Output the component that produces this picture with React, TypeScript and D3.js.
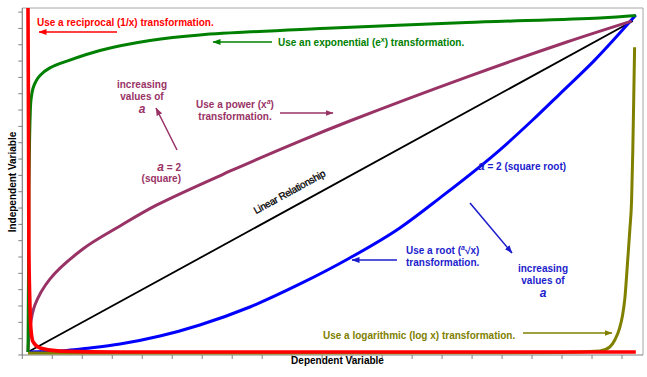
import React from 'react';
import * as d3 from 'd3';

type P = [number, number];

// tick positions (axis units)
const xTicks = d3.range(0, 21);
const yTicks = d3.range(0, 22);

// curves (axis units)
const linearPts: P[] = [[0.19, 0.18], [20.36, 20.45]];
const rootPts: P[] = [
  [0.19, 0.18], [1.26, 0.24], [2.26, 0.43], [3.26, 0.67], [4.59, 1.16], [5.92, 1.84],
  [7.59, 2.94], [9.26, 4.35], [10.92, 5.94], [12.59, 7.78], [13.92, 9.61], [15.92, 12.55],
  [17.02, 14.39], [17.92, 15.98], [19.09, 18.06], [20.46, 20.82],
];
const powerPts: P[] = [
  [0.19, 0.18], [0.25, 1.6], [0.42, 3.06], [0.92, 4.65], [2.02, 6.49], [3.26, 7.9],
  [4.49, 9.19], [7.02, 11.33], [9.26, 13.1], [10.92, 14.33], [14.82, 17.02],
  [18.16, 19.17], [20.32, 20.45],
];
const logPts: P[] = [
  [0.19, 0.12], [17.92, 0.15], [19.26, 0.24], [19.59, 0.49], [19.76, 0.92], [19.92, 1.65],
  [20.02, 2.45], [20.09, 3.37], [20.19, 5.82], [20.26, 7.65], [20.32, 9.49], [20.36, 12.55],
  [20.39, 15.62], [20.42, 18.85],
];
const expPts: P[] = [
  [0.19, 0.18], [0.21, 5.82], [0.22, 10.1], [0.24, 12.86], [0.26, 14.51], [0.29, 15.62],
  [0.36, 16.35], [0.46, 16.78], [0.59, 17.12], [0.92, 17.58], [1.49, 18.0], [2.59, 18.65],
  [4.26, 19.26], [5.92, 19.6], [10.36, 20.02], [14.82, 20.36], [19.26, 20.64], [20.46, 20.79],
];
const recipPts: P[] = [
  [0.19, 21.25], [0.21, 12.55], [0.22, 6.43], [0.26, 2.76], [0.29, 1.53], [0.36, 0.8],
  [0.59, 0.43], [1.26, 0.24], [3.26, 0.18], [20.46, 0.18],
];

const FONT = "'Liberation Sans', Arial, sans-serif";
const RED = '#ff0000';
const GREEN = '#008000';
const MAG = '#993366';
const BLUE = '#0000ff';
const BLUE_T = '#1c1ccc';
const OLIVE = '#808000';

export default function App() {
  const x = d3.scaleLinear().domain([0, 20.7]).range([22.3, 643]);
  const y = d3.scaleLinear().domain([0, 21.25]).range([355, 8]);
  const line = d3.line<P>().x(d => x(d[0])).y(d => y(d[1])).curve(d3.curveMonotoneX);
  const smooth = d3.line<P>().x(d => x(d[0])).y(d => y(d[1])).curve(d3.curveCatmullRom.alpha(0.5));

  const marker = (id: string, color: string) => (
    <marker id={id} viewBox="0 0 8 6" refX={7.5} refY={3} markerWidth={8} markerHeight={6}
      markerUnits="userSpaceOnUse" orient="auto">
      <path d="M0,0 L8,3 L0,6 Z" fill={color} />
    </marker>
  );
  const arrow = (x1: number, y1: number, x2: number, y2: number, color: string, id: string) => (
    <line x1={x1} y1={y1} x2={x2} y2={y2} stroke={color} strokeWidth={1.6} markerEnd={`url(#${id})`} />
  );

  const txt = { fontFamily: FONT, fontSize: 10, fontWeight: 'bold' as const };

  return (
    <svg width={647} height={377} style={{ position: 'absolute', left: 0, top: 0, background: '#fff' }}>
      <defs>
        {marker('aR', RED)}
        {marker('aG', GREEN)}
        {marker('aM', MAG)}
        {marker('aB', BLUE_T)}
        {marker('aO', OLIVE)}
      </defs>
      {/* frame */}
      <line x1={x(0)} y1={8} x2={643} y2={8} stroke="#a6a6a6" strokeWidth={1} />
      <line x1={643} y1={8} x2={643} y2={355} stroke="#a6a6a6" strokeWidth={1} />
      {/* axes */}
      <line x1={x(0)} y1={8} x2={x(0)} y2={355} stroke="#808080" strokeWidth={1.2} />
      <line x1={x(0)} y1={355} x2={643} y2={355} stroke="#808080" strokeWidth={1.2} />
      {yTicks.map(t => (
        <line key={'y' + t} x1={x(0) - 4} x2={x(0)} y1={y(t)} y2={y(t)} stroke="#808080" strokeWidth={1} />
      ))}
      {xTicks.map(t => (
        <line key={'x' + t} x1={x(t)} x2={x(t)} y1={355} y2={359} stroke="#808080" strokeWidth={1} />
      ))}

      {/* curves */}
      <path d={line(linearPts) || ''} fill="none" stroke="#000" strokeWidth={1.8} />
      <path d={line(rootPts) || ''} fill="none" stroke={BLUE} strokeWidth={3} />
      <path d={smooth(powerPts) || ''} fill="none" stroke={MAG} strokeWidth={3} />
      <path d={line(logPts) || ''} fill="none" stroke={OLIVE} strokeWidth={3} />
      <path d={smooth(expPts) || ''} fill="none" stroke={GREEN} strokeWidth={3} />
      <path d={line(recipPts) || ''} fill="none" stroke={RED} strokeWidth={3.6} />

      {/* reciprocal */}
      <text x={37} y={25.5} fill={RED} {...txt}>Use a reciprocal (1/x) transformation.</text>
      {arrow(117, 32, 39, 32, RED, 'aR')}

      {/* exponential */}
      {arrow(272, 42, 213, 42, GREEN, 'aG')}
      <text x={278} y={45.5} fill={GREEN} {...txt}>
        Use an exponential (e<tspan fontSize={7} dy={-4}>x</tspan><tspan dy={4}>) transformation.</tspan>
      </text>

      {/* power */}
      <g fill={MAG} {...txt} textAnchor="middle">
        <text x={142} y={88}>increasing</text>
        <text x={142} y={100}>values of</text>
        <text x={142} y={112.5} fontSize={12} fontStyle="italic">a</text>
      </g>
      {arrow(177, 150, 156, 108, MAG, 'aM')}
      <g fill={MAG} {...txt} textAnchor="end">
        <text x={181} y={171}><tspan fontSize={12} fontStyle="italic">a</tspan> = 2</text>
        <text x={181} y={182}>(square)</text>
      </g>
      <g fill={MAG} {...txt} textAnchor="middle">
        <text x={235} y={108}>Use a power (x<tspan fontSize={7} fontStyle="italic" dy={-4}>a</tspan><tspan dy={4}>)</tspan></text>
        <text x={235} y={120}>transformation.</text>
      </g>
      {arrow(280, 113, 333, 113, MAG, 'aM')}

      {/* linear */}
      <text transform={`translate(291,195) rotate(-28.7)`} textAnchor="middle"
        fontFamily={FONT} fontSize={10} fill="#000" stroke="#000" strokeWidth={0.3} letterSpacing={-0.3}>
        Linear Relationship
      </text>

      {/* root */}
      <text x={478} y={170} fill={BLUE_T} {...txt}>
        <tspan fontSize={12} fontStyle="italic">a</tspan> = 2 (square root)
      </text>
      {arrow(470, 203, 512, 253, BLUE_T, 'aB')}
      <g fill={BLUE_T} {...txt}>
        <text x={406} y={254}>Use a root (<tspan fontSize={7} fontStyle="italic" dy={-4}>a</tspan><tspan dy={4}>√x)</tspan></text>
        <text x={406} y={266}>transformation.</text>
      </g>
      {arrow(397, 260, 352, 260, BLUE_T, 'aB')}
      <g fill={BLUE_T} {...txt} textAnchor="middle">
        <text x={543} y={272}>increasing</text>
        <text x={543} y={284}>values of</text>
        <text x={543} y={297} fontSize={12} fontStyle="italic">a</text>
      </g>

      {/* log */}
      <text x={323} y={338.5} fill={OLIVE} {...txt}>Use a logarithmic (log x) transformation.</text>
      {arrow(523, 333, 612, 333, OLIVE, 'aO')}

      {/* axis titles */}
      <text x={337.5} y={364} textAnchor="middle" fill="#000" {...txt}>Dependent Variable</text>
      <text transform="translate(15.5,182) rotate(-90)" textAnchor="middle" fill="#000" {...txt}>Independent Variable</text>
    </svg>
  );
}
